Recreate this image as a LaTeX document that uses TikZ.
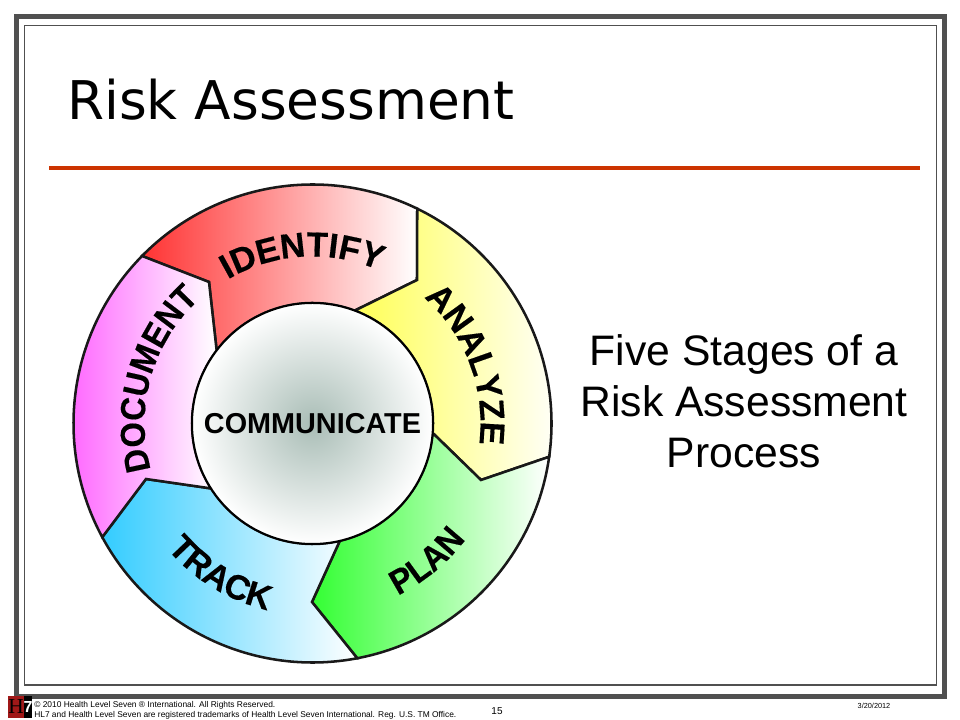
\documentclass[tikz,border=0pt]{standalone}
\usepackage{fontspec}
\setmainfont{Liberation Sans}
\newfontfamily\titlefont{DejaVu Sans}
\newfontfamily\wheelfam[FakeBold=0.4]{Liberation Sans Bold}
\newfontfamily\narrowfam[FakeStretch=0.94,FakeBold=0.4]{Liberation Sans Bold}
\newfontfamily\logofam{Liberation Serif}
\usetikzlibrary{calc}
\definecolor{framegray}{HTML}{505050}
\definecolor{rulered}{HTML}{CC3300}
\definecolor{hubgray}{HTML}{A9BDB6}
\definecolor{logored}{HTML}{A01818}
\definecolor{segred}{HTML}{FF3333}
\definecolor{segyellow}{HTML}{FFFF55}
\definecolor{seggreen}{HTML}{33FF33}
\definecolor{segblue}{HTML}{33CCFF}
\definecolor{segpink}{HTML}{FF55FF}
\tikzset{
  x=0.75pt,y=0.75pt,
  segment/.style={draw=black!90,line width=1.9pt,line join=miter,right color=white,left color=#1},
  wheelchar/.style={inner sep=0,anchor=base,font=\wheelfam\fontsize{26pt}{26pt}\selectfont},
  narrowchar/.style={inner sep=0,anchor=base,font=\narrowfam\fontsize{26pt}{26pt}\selectfont},
}
% #1 name, #2 style, #3 centre angle, #4 spread, #5 radius, #6 rotation offset, #7 angle/letter list
\newcommand\wheelword[7]{%
  \foreach \a/\l [count=\i] in {#7}{%
    \pgfmathsetmacro\ang{#3+#4*(\a-#3)}%
    \node[#2,rotate=\ang+#6] (#1\i) at (\ang:#5) {\l};
  }%
}
\begin{document}
\begin{tikzpicture}
\useasboundingbox (0,0) rectangle (960,720);
\fill[white] (0,0) rectangle (960,720);
% frames
\draw[framegray,line width=3.75pt] (16.5,703.5) rectangle (944.2,23.5);
\draw[framegray,line width=0.9pt] (24.5,694.5) rectangle (936.5,35);
% title
\node[anchor=base west,inner sep=0,font=\titlefont\fontsize{40pt}{40pt}\selectfont] (title) at (67,600) {Risk Assessment};
\coordinate (ruleL) at (49,552);
\coordinate (ruleR) at (919.5,552);
\draw[rulered,line width=3pt] (ruleL) -- (ruleR);
% wheel
\begin{scope}[shift={(312.5,296.5)}]
\coordinate (n1) at (-103.5,141.5);
\coordinate (n2) at (104.5,143.5);
\coordinate (n3) at (168.5,-56.5);
\coordinate (n4) at (-0.5,-178.5);
\coordinate (n5) at (-166.5,-55.5);
% identify
\path[segment=segred] (135.5:239) arc[start angle=135.5,end angle=64,radius=239] -- (n2) -- (69.5:120.5) arc[start angle=69.5,end angle=142.7,radius=120.5] -- (n1) -- cycle;
% analyze
\path[segment=segyellow] (64:239) arc[start angle=64,end angle=-8,radius=239] -- (n3) -- (-4.5:120.5) arc[start angle=-4.5,end angle=69.5,radius=120.5] -- (n2) -- cycle;
% plan
\path[segment=seggreen] (-8:239) arc[start angle=-8,end angle=-79.2,radius=239] -- (n4) -- (-76.9:120.5) arc[start angle=-76.9,end angle=-4.5,radius=120.5] -- (n3) -- cycle;
% track
\path[segment=segblue] (-79.2:239) arc[start angle=-79.2,end angle=-151.6,radius=239] -- (n5) -- (-147.4:120.5) arc[start angle=-147.4,end angle=-76.9,radius=120.5] -- (n4) -- cycle;
% document
\path[segment=segpink] (208.4:239) arc[start angle=208.4,end angle=135.5,radius=239] -- (n1) -- (142.7:120.5) arc[start angle=142.7,end angle=212.6,radius=120.5] -- (n5) -- cycle;
% hub
\node[circle,minimum size=180.75pt,inner sep=0,draw=black,line width=1.5pt,inner color=hubgray,outer color=white,font=\fontsize{21.6pt}{21.6pt}\bfseries\selectfont,text=black] (hub) at (0,0) {COMMUNICATE};
% labels, letter by letter along the rings
\wheelword{identify}{wheelchar}{94.6}{1.08}{167}{-90}{117.0/I,111.5/D,103.9/E,96.3/N,88.9/T,84.1/I,79.2/F,72.2/Y}
\wheelword{analyze}{wheelchar}{20.5}{1.02}{168}{-90}{43.8/A,35.5/N,27.1/A,19.4/L,12.0/Y,4.7/Z,-2.7/E}
\wheelword{document}{narrowchar}{163.75}{1.10}{168}{-90}{189.4/D,181.8/O,174.3/C,167.1/U,159.3/M,151.7/E,144.8/N,138.1/T}
\wheelword{track}{wheelchar}{237.6}{1.08}{192}{90}{224.9/T,231.2/R,238/A,244.8/C,251.6/K}
\wheelword{plan}{narrowchar}{-50.3}{1.07}{192}{90}{-59.7/P,-53.8/L,-47.8/A,-41.2/N}
\end{scope}
% side text
\node[align=center,inner sep=0,font=\fontsize{32pt}{38.25pt}\selectfont] (stages) at (744,319) {Five Stages of a\\Risk Assessment\\Process};
% footer
\fill[logored] (8,2) rectangle (24,24);
\fill[black] (24,2) rectangle (32,24);
\node[inner sep=0,text=black,font=\logofam\fontsize{16pt}{16pt}\selectfont] (logoH) at (16,13) {H};
\node[inner sep=0,text=white,font=\fontsize{12pt}{12pt}\bfseries\selectfont] (logoS) at (28,13) {7};
\node[anchor=base west,inner sep=0,font=\fontsize{6.3pt}{6.3pt}\selectfont] (foot1) at (34,12) {© 2010 Health Level Seven ® International. All Rights Reserved.};
\node[anchor=base west,inner sep=0,font=\fontsize{6.3pt}{6.3pt}\selectfont] (foot2) at (34,2) {HL7 and Health Level Seven are registered trademarks of Health Level Seven International. Reg. U.S. TM Office.};
\node[inner sep=0,font=\fontsize{7.5pt}{7.5pt}\selectfont] (pagenum) at (497,9) {15};
\node[inner sep=0,font=\fontsize{5.5pt}{5.5pt}\selectfont] (date) at (874,14) {3/20/2012};
\end{tikzpicture}
\end{document}
